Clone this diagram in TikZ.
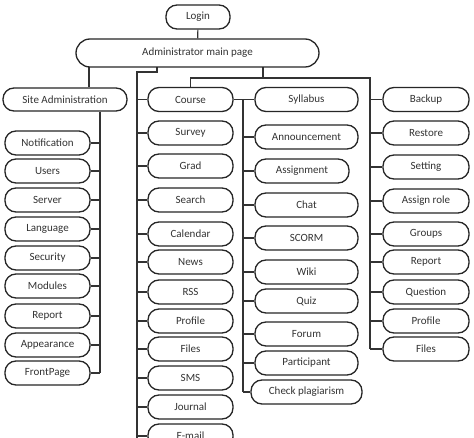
\documentclass[tikz,border=0pt]{standalone}
\usepackage{fontspec}
\setmainfont{Carlito}
\usetikzlibrary{backgrounds}
\begin{document}
\begin{tikzpicture}[x=1pt,y=-1pt,
  box/.style={draw=black!85, line width=1.3pt, rounded corners=11pt, fill=white,
    minimum height=24pt, inner sep=0pt, font=\fontsize{11}{13}\selectfont, text=black!80},
  lbox/.style={box, minimum width=85pt},
  cbox/.style={box, minimum width=85pt},
  mbox/.style={box, minimum width=103pt},
  rbox/.style={box, minimum width=86pt},
  conn/.style={draw=black!80, line width=1.1pt}]
\useasboundingbox (0,0) rectangle (474,438);
% top
\node[box, minimum width=64pt] (login) at (198,17) {Login};
\node[box, minimum width=243pt, minimum height=28pt, rounded corners=14pt] (admin) at (197.5,53) {Administrator main page};
% left column
\node[box, minimum width=124pt, minimum height=23pt] (sa) at (65,99.5) {Site Administration};
\node[lbox] (notif) at (47.5,143) {Notification};
\node[lbox] (users) at (47.5,171) {Users};
\node[lbox] (server) at (47.5,200) {Server};
\node[lbox] (language) at (47.5,229) {Language};
\node[lbox] (security) at (47.5,258) {Security};
\node[lbox] (modules) at (47.5,286) {Modules};
\node[lbox] (lreport) at (47.5,316) {Report};
\node[lbox] (appearance) at (47.5,345) {Appearance};
\node[lbox] (frontpage) at (47.5,373) {FrontPage};
% second column
\node[cbox] (course) at (190.5,99.5) {Course};
\node[cbox] (survey) at (190.5,133) {Survey};
\node[cbox] (grad) at (190.5,166) {Grad};
\node[cbox] (search) at (190.5,200) {Search};
\node[cbox] (calendar) at (190.5,234) {Calendar};
\node[cbox] (news) at (190.5,262) {News};
\node[cbox] (rss) at (190.5,292) {RSS};
\node[cbox] (cprofile) at (190.5,321) {Profile};
\node[cbox] (cfiles) at (190.5,349) {Files};
\node[cbox] (sms) at (190.5,378) {SMS};
\node[cbox] (journal) at (190.5,407) {Journal};
\node[cbox] (email) at (190.5,436) {E-mail};
% middle column
\node[mbox] (syllabus) at (306.5,99.5) {Syllabus};
\node[mbox] (announcement) at (306.5,137) {Announcement};
\node[box, minimum width=94pt] (assignment) at (302,171) {Assignment};
\node[mbox] (chat) at (306.5,205) {Chat};
\node[mbox] (scorm) at (306.5,238) {SCORM};
\node[mbox] (wiki) at (306.5,272) {Wiki};
\node[mbox] (quiz) at (306.5,301) {Quiz};
\node[mbox] (forum) at (306.5,334) {Forum};
\node[mbox] (participant) at (306.5,363) {Participant};
\node[box, minimum width=111pt] (checkplag) at (306.5,392) {Check plagiarism};
% right column
\node[rbox] (backup) at (426,99.5) {Backup};
\node[rbox] (restore) at (426,133) {Restore};
\node[rbox] (setting) at (426,167) {Setting};
\node[rbox] (assignrole) at (426,201) {Assign role};
\node[rbox] (groups) at (426,234) {Groups};
\node[rbox] (rreport) at (426,262) {Report};
\node[rbox] (question) at (426,292) {Question};
\node[rbox] (rprofile) at (426,321) {Profile};
\node[rbox] (rfiles) at (426,349) {Files};
% trunk coordinates
\coordinate (aL) at (89,53);
\coordinate (tL) at (100,0);
\coordinate (tC) at (137,438);
\coordinate (aC) at (157,72);
\coordinate (hy) at (263,78);
\coordinate (tM) at (243,0);
\coordinate (tR) at (370,0);
\begin{scope}[on background layer]
\draw[conn] (login) -- (admin);
\draw[conn] (aL) -- (aL |- sa.north);
\draw[conn] (sa.south -| tL) -- (frontpage -| tL);
\foreach \n in {notif,users,server,language,security,modules,lreport,appearance,frontpage}
  \draw[conn] (\n.east) -- (\n -| tL);
\draw[conn] (admin.center -| aC) -- (aC) -- (aC -| tC) -- (tC);
\foreach \n in {course,survey,grad,search,calendar,news,rss,cprofile,cfiles,sms,journal,email}
  \draw[conn] (\n.west) -- (\n -| tC);
\draw[conn] (admin.center -| hy) -- (hy);
\draw[conn] (course.north) |- (hy) -| (rfiles -| tR);
\draw[conn] (course.east) -- (syllabus.west);
\draw[conn] (syllabus -| tM) -- (checkplag -| tM);
\foreach \n in {announcement,assignment,chat,scorm,wiki,quiz,forum,participant,checkplag}
  \draw[conn] (\n.west) -- (\n -| tM);
\foreach \n in {backup,restore,setting,assignrole,groups,rreport,question,rprofile,rfiles}
  \draw[conn] (\n.west) -- (\n -| tR);
\end{scope}
\end{tikzpicture}
\end{document}
